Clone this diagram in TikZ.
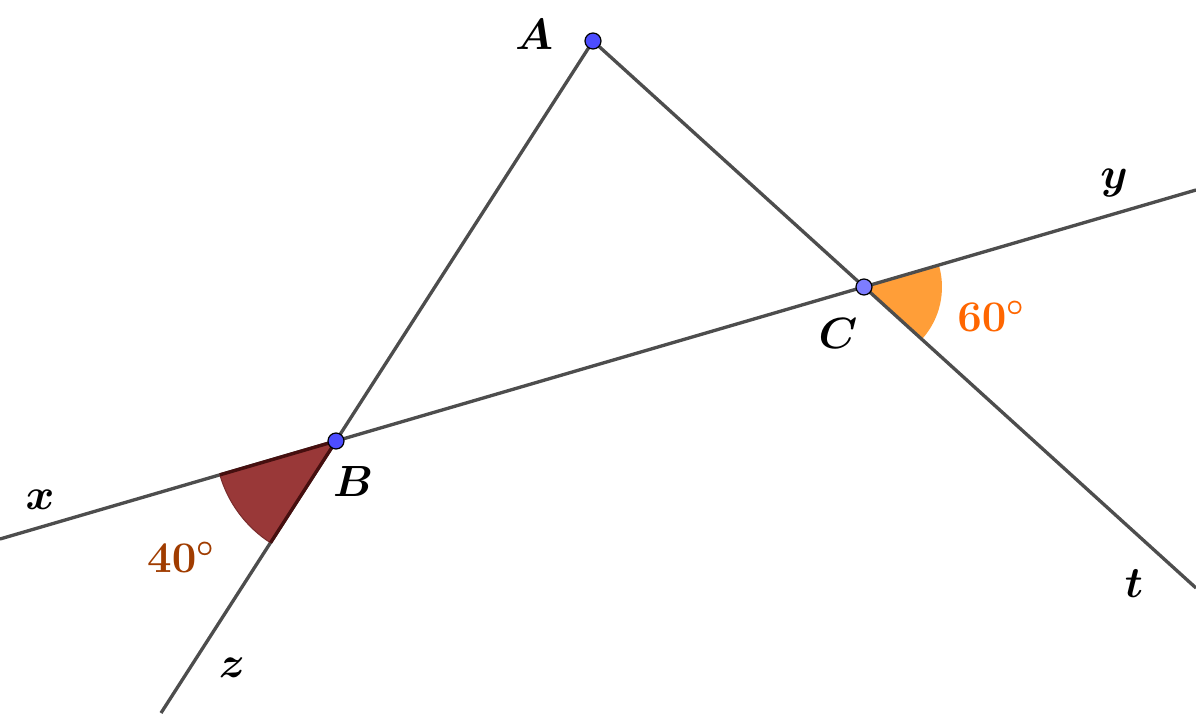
\documentclass[tikz,border=0pt]{standalone}
\usepackage{bm}
\usetikzlibrary{calc}
\definecolor{linegray}{RGB}{77,77,77}
\definecolor{ptblue}{RGB}{77,77,255}
\definecolor{ptblueC}{RGB}{125,125,255}
\definecolor{angB}{RGB}{153,56,56}
\definecolor{angBedge}{RGB}{70,15,15}
\definecolor{angC}{RGB}{255,158,56}
\definecolor{labB}{RGB}{160,60,0}
\definecolor{labC}{RGB}{255,102,0}
\tikzset{
  geoline/.style={draw=linegray, line width=1.9pt, line cap=butt},
  geopt/.style={circle, draw=black, line width=0.7pt, inner sep=0pt, minimum size=0.32cm},
  lbl/.style={font=\fontsize{25}{30}\selectfont, inner sep=0pt},
}
\begin{document}
\begin{tikzpicture}[x=0.02cm, y=-0.02cm]
\useasboundingbox (0,0) rectangle (1196,713);
% key points
\coordinate (A) at (593,41);
\coordinate (B) at (336,441);
\coordinate (C) at (864,287);
\coordinate (xe) at (0,539);
\coordinate (ye) at (1196,190);
\coordinate (te) at (1196,588);
\coordinate (ze) at (161,713);
\coordinate (Ct) at ($(C)!1.56cm!(te)$);
\coordinate (Bx) at ($(B)!2.42cm!(xe)$);
\coordinate (Bz) at ($(B)!2.42cm!(ze)$);
% orange angle at C (drawn under lines)
\fill[angC] (C) -- (Ct) arc[start angle=-42.2, end angle=16.3, radius=1.56cm] -- cycle;
% lines
\draw[geoline] (xe) -- (ye);
\draw[geoline] (A) -- (te);
\draw[geoline] (A) -- (ze);
% dark red angle at B
\fill[angB] (B) -- (Bx) arc[start angle=196.2, end angle=237.3, radius=2.42cm] -- cycle;
\draw[angB!80!black, line width=0.6pt] (Bx) arc[start angle=196.2, end angle=237.3, radius=2.42cm];
\draw[angBedge, line width=1.9pt] (Bx) -- (B) -- (Bz);
% points
\node[geopt, fill=ptblue] (pA) at (A) {};
\node[geopt, fill=ptblue] (pB) at (B) {};
\node[geopt, fill=ptblueC] (pC) at (C) {};
% labels
\node[lbl] (lA) at (534,35) {$\bm{A}$};
\node[lbl] (lB) at (353,481) {$\bm{B}$};
\node[lbl] (lC) at (838,333) {$\bm{C}$};
\node[lbl] (lx) at (40,500) {$\bm{x}$};
\node[lbl] (ly) at (1114,183) {$\bm{y}$};
\node[lbl] (lz) at (232,668) {$\bm{z}$};
\node[lbl] (lt) at (1134,584) {$\bm{t}$};
\node[lbl, text=labB] (l40) at (181,557) {$\bm{40^\circ}$};
\node[lbl, text=labC] (l60) at (991,316) {$\bm{60^\circ}$};
\end{tikzpicture}
\end{document}
